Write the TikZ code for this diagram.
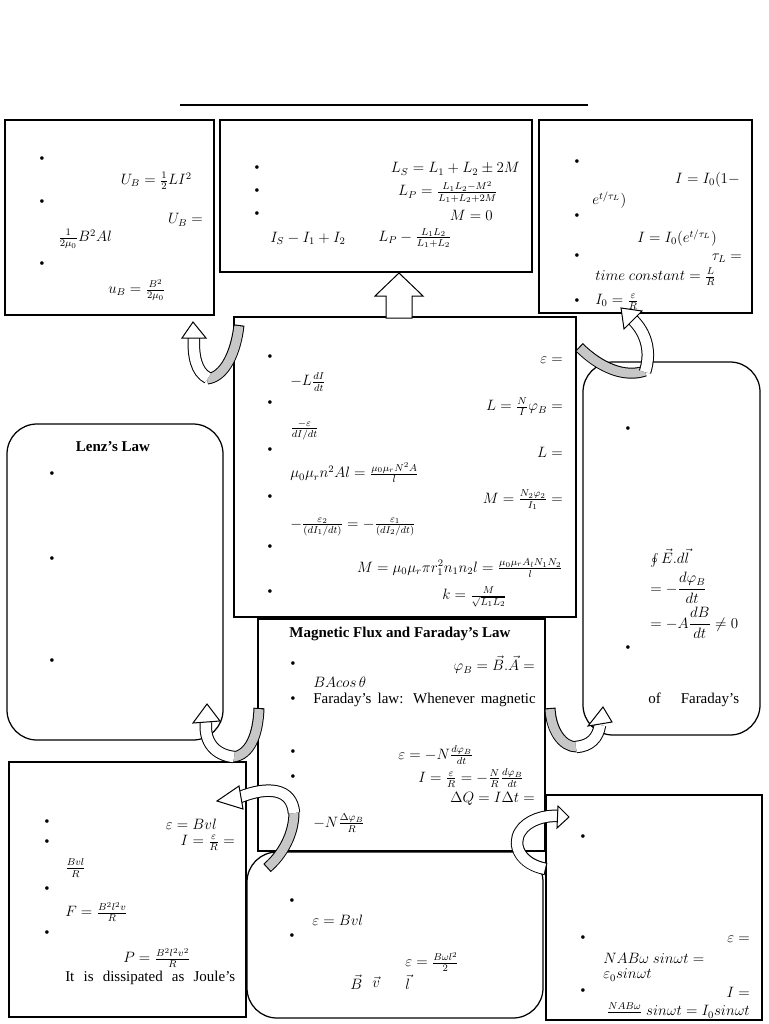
\documentclass[tikz,border=0pt]{standalone}
\usepackage{fontspec}
\setmainfont{Liberation Serif}
\usetikzlibrary{fit}
\begin{document}
\begin{tikzpicture}[x=0.8pt,y=-0.8pt,
  box/.style={draw, line width=1pt, fill=white, inner sep=0pt},
  rbox/.style={box, rounded corners=24pt},
  txt/.style={inner sep=0pt, font=\fontsize{12}{14}\selectfont},
  L/.style={txt, anchor=west},
  R/.style={txt, anchor=east},
  bul/.style={txt},
  ttl/.style={txt, font=\fontsize{12}{14}\selectfont\bfseries},
  gband/.style={draw=black!22, line width=7.2pt, shorten <=0.9pt, preaction={draw=black, line width=8.8pt, shorten <=0pt}},
  wband/.style={draw=white, line width=8.4pt, preaction={draw=black, line width=10pt}},
  wtail/.style={draw=white, line width=8.4pt, shorten <=0.9pt, preaction={draw=black, line width=10pt, shorten <=0pt}},
  head/.style={draw=black, fill=white, line width=0.8pt, line join=miter}
]
\useasboundingbox (0,0) rectangle (768,1024);
\fill[white] (0,0) rectangle (768,1024);

% title rule
\coordinate (ruleL) at (180,105);
\coordinate (ruleR) at (588,105);
\draw[line width=1.2pt] (ruleL) -- (ruleR);

% boxes
\node[box, fit={(5,120) (214,315)}] (A) {};
\node[box, fit={(220,120) (532,272)}] (B) {};
\node[box, fit={(539,120) (752,313)}] (C) {};
\node[box, fit={(234,317) (576,617)}] (D) {};
\node[rbox, fit={(7,424) (223,740)}] (E) {};
\node[rbox, fit={(583,362) (760,735)}] (F) {};
\node[box, fit={(258,619) (545,851)}] (G) {};
\node[box, fit={(9,762) (246,1017)}] (H) {};
\node[rbox, fit={(247,852) (543,1018)}] (I) {};
\node[box, fit={(546,795) (762,1020)}] (J) {};

% Box A
\node[bul] (a1) at (42,160) {\textbullet};
\node[R] (a2) at (192,181) {$U_B=\frac{1}{2}LI^2$};
\node[bul] (a3) at (42,203) {\textbullet};
\node[R] (a4) at (203,220) {$U_B=$};
\node[L] (a5) at (58,239) {$\frac{1}{2\mu_0}B^2Al$};
\node[bul] (a6) at (42,265) {\textbullet};
\node[L] (a7) at (108,290) {$u_B=\frac{B^2}{2\mu_0}$};

% Box B
\node[bul] (b1) at (257,169) {\textbullet};
\node[R] (b2) at (520,169) {$L_S=L_1+L_2\pm 2M$};
\node[bul] (b3) at (257,192) {\textbullet};
\node[R] (b4) at (498,192) {$L_P=\frac{L_1L_2-M^2}{L_1+L_2+2M}$};
\node[bul] (b5) at (257,215) {\textbullet};
\node[R] (b6) at (493,215) {$M=0$};
\node[L] (b7) at (270,238) {$I_S-I_1+I_2$};
\node[L] (b8) at (378,238) {$L_P-\frac{L_1L_2}{L_1+L_2}$};

% Box C
\node[bul] (c1) at (577,163) {\textbullet};
\node[R] (c2) at (740,180) {$I=I_0(1-$};
\node[L] (c3) at (592,200) {$e^{t/\tau_L})$};
\node[bul] (c4) at (577,217) {\textbullet};
\node[L] (c5) at (637,238) {$I=I_0(e^{t/\tau_L})$};
\node[bul] (c6) at (577,257) {\textbullet};
\node[R] (c7) at (742,258) {$\tau_L=$};
\node[L] (c8) at (595,277) {$time\ constant=\frac{L}{R}$};
\node[bul] (c9) at (577,302) {\textbullet};
\begin{scope}
\clip (539,120) rectangle (752,313);
\node[L] (c10) at (595,302) {$I_0=\frac{\varepsilon}{R}$};
\end{scope}

% Box D
\node[bul] (d1) at (270,358) {\textbullet};
\node[R] (d2) at (563,360) {$\varepsilon=$};
\node[L] (d3) at (290,382) {$-L\frac{dI}{dt}$};
\node[bul] (d4) at (270,404) {\textbullet};
\node[R] (d5) at (563,407) {$L=\frac{N}{I}\varphi_B=$};
\node[L] (d6) at (290,430) {$\frac{-\varepsilon}{dI/dt}$};
\node[bul] (d7) at (270,451) {\textbullet};
\node[R] (d8) at (563,452) {$L=$};
\node[L] (d9) at (290,473) {$\mu_0\mu_r n^2Al=\frac{\mu_0\mu_r N^2A}{l}$};
\node[bul] (d10) at (270,498) {\textbullet};
\node[R] (d11) at (563,500) {$M=\frac{N_2\varphi_2}{I_1}=$};
\node[L] (d12) at (290,527) {$-\frac{\varepsilon_2}{(dI_1/dt)}=-\frac{\varepsilon_1}{(dI_2/dt)}$};
\node[bul] (d13) at (270,548) {\textbullet};
\node[R] (d14) at (563,568) {$M=\mu_0\mu_r\pi r_1^2n_1n_2l=\frac{\mu_0\mu_r A_l N_1N_2}{l}$};
\node[bul] (d15) at (270,593) {\textbullet};
\node[L] (d16) at (442,597) {$k=\frac{M}{\sqrt{L_1L_2}}$};

% Box E
\node[ttl] (e0) at (113,447) {Lenz’s Law};
\node[bul] (e1) at (52,475) {\textbullet};
\node[bul] (e2) at (52,560) {\textbullet};
\node[bul] (e3) at (52,662) {\textbullet};

% Box F
\node[bul] (f1) at (628,430) {\textbullet};
\node[L] (f2) at (650,558) {$\oint\vec E.d\vec l$};
\node[L] (f3) at (650,588) {$\displaystyle=-\frac{d\varphi_B}{dt}$};
\node[L] (f4) at (650,623) {$\displaystyle=-A\frac{dB}{dt}\neq0$};
\node[bul] (f5) at (628,649) {\textbullet};
\node[L] (f6) at (648,700) {of\hspace*{16pt}Faraday’s};

% Box G
\node[ttl] (g0) at (400,634) {Magnetic Flux and Faraday’s Law};
\node[bul] (g1) at (293,665) {\textbullet};
\node[R] (g2) at (535,665) {$\varphi_B=\vec B.\vec A=$};
\node[L] (g3) at (313,682) {$BAcos\,\theta$};
\node[bul] (g4) at (293,700) {\textbullet};
\node[L] (g5) at (313,700) {\makebox[178pt][s]{Faraday’s law: Whenever magnetic}};
\node[bul] (g6) at (293,753) {\textbullet};
\node[L] (g7) at (398,755) {$\varepsilon=-N\frac{d\varphi_B}{dt}$};
\node[bul] (g8) at (293,778) {\textbullet};
\node[L] (g9) at (418,778) {$I=\frac{\varepsilon}{R}=-\frac{N}{R}\frac{d\varphi_B}{dt}$};
\node[bul] (g10) at (293,799) {\textbullet};
\node[R] (g11) at (535,799) {$\Delta Q=I\Delta t=$};
\node[L] (g12) at (313,823) {$-N\frac{\Delta\varphi_B}{R}$};

% Box H
\node[bul] (h1) at (47,823) {\textbullet};
\node[R] (h2) at (217,824) {$\varepsilon=Bvl$};
\node[bul] (h3) at (47,843) {\textbullet};
\node[R] (h4) at (235,843) {$I=\frac{\varepsilon}{R}=$};
\node[L] (h5) at (65,868) {$\frac{Bvl}{R}$};
\node[bul] (h6) at (47,890) {\textbullet};
\node[L] (h7) at (65,912) {$F=\frac{B^2l^2v}{R}$};
\node[bul] (h8) at (47,934) {\textbullet};
\node[L] (h9) at (123,958) {$P=\frac{B^2l^2v^2}{R}$};
\node[L] (h10) at (65,978) {\makebox[136pt][s]{It is dissipated as Joule’s}};

% Box I
\node[bul] (i1) at (292,902) {\textbullet};
\node[L] (i2) at (312,920) {$\varepsilon=Bvl$};
\node[bul] (i3) at (292,937) {\textbullet};
\node[L] (i4) at (405,962) {$\varepsilon=\frac{B\omega l^2}{2}$};
\node[L] (i5) at (350,982) {$\vec B$};
\node[L] (i6) at (372,982) {$\vec v$};
\node[L] (i7) at (405,982) {$\vec l$};

% Box J
\node[bul] (j1) at (583,838) {\textbullet};
\node[bul] (j2) at (583,939) {\textbullet};
\node[R] (j3) at (750,939) {$\varepsilon=$};
\node[L] (j4) at (603,958) {$NAB\omega\ sin\omega t=$};
\node[L] (j5) at (603,975) {$\varepsilon_0sin\omega t$};
\node[bul] (j6) at (583,992) {\textbullet};
\node[R] (j7) at (750,992) {$I=$};
\node[R] (j8) at (750,1012) {$\frac{NAB\omega}{\vphantom{R}}\ sin\omega t=I_0sin\omega t$};

% block arrow D -> B
\draw[head] (386,318) -- (386,296) -- (375,296) -- (399,273) -- (423,296) -- (412,296) -- (412,318) -- cycle;

% curved arrow D -> A
\draw[gband] (239,325) .. controls (236,352) and (225,377) .. (207,379);
\draw[wband] (208,378) .. controls (196,372) and (193,355) .. (194,338);
\draw[head] (182,338) -- (193,322) -- (206,338) -- cycle;

% curved arrow D -> C
\draw[gband] (579,347) .. controls (600,368) and (625,378) .. (645,371);
\draw[wband] (645,372) .. controls (652,350) and (645,332) .. (633,320);
\draw[head] (642,311) -- (621,308) -- (624,329) -- cycle;

% curved arrow G -> E
\draw[gband] (259,708) .. controls (258,735) and (250,755) .. (233,757);
\draw[wband] (234,757) .. controls (215,755) and (204,742) .. (206,722);
\draw[head] (193,723) -- (207,704) -- (220,721) -- cycle;

% curved arrow G -> H
\draw[gband] (267,868) .. controls (282,855) and (294,835) .. (294,812);
\draw[wband] (294,813) .. controls (292,788) and (268,786) .. (240,797);
\draw[head] (239,786) -- (217,801) -- (243,809) -- cycle;

% curved arrow G -> F
\draw[gband] (550,708) .. controls (551,730) and (562,747) .. (577,747);
\draw[wband] (576,747) .. controls (590,746) and (598,738) .. (600,725);
\draw[head] (588,726) -- (603,707) -- (612,722) -- cycle;

% curved arrow G -> J
\draw[wtail] (546,869) .. controls (520,864) and (512,845) .. (520,832) .. controls (527,820) and (545,815) .. (558,816);
\draw[head] (558,806) -- (569,817) -- (557,828) -- cycle;
\end{tikzpicture}
\end{document}
